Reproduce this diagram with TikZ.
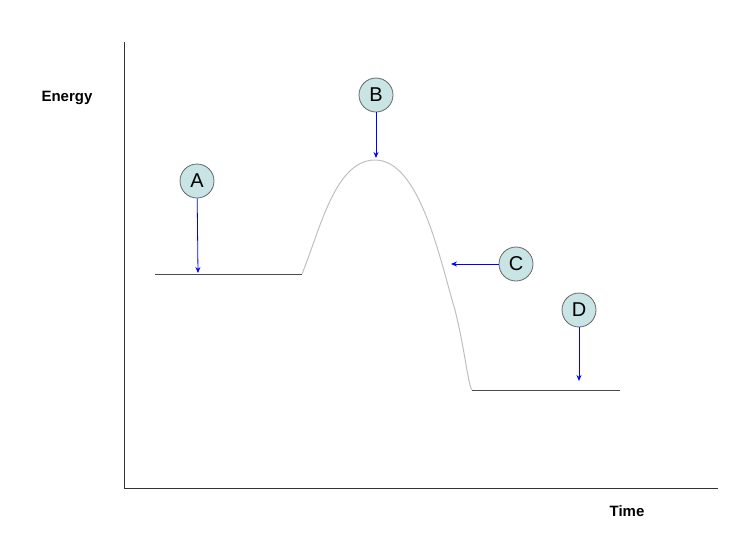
\documentclass[tikz,border=0pt]{standalone}
\usepackage{fontspec}
\setmainfont{Liberation Sans}
\usetikzlibrary{arrows.meta}
\definecolor{circ}{RGB}{200,228,228}
\tikzset{x=1pt,y=-1pt,
 lab/.style={circle,draw=black!60,thick,fill=circ,minimum size=34pt,inner sep=0pt,font=\fontsize{20}{20}\selectfont},
 marker/.style={blue,thick,-{Stealth[length=6pt,width=5pt]}},
 axis/.style={black!80,line width=0.8pt},
 level/.style={black!70,line width=1pt}}
\begin{document}
\begin{tikzpicture}
\useasboundingbox (0,0) rectangle (744,544);
\coordinate (o) at (124,488);
\coordinate (yt) at (124,42);
\coordinate (xt) at (718,488);
\draw[axis] (yt) -- (o) -- (xt);
\node[font=\bfseries\fontsize{15}{15}\selectfont] (en) at (67,98) {Energy};
\node[font=\bfseries\fontsize{15}{15}\selectfont] (ti) at (627,511) {Time};
\coordinate (l1) at (155,274);
\coordinate (l2) at (302,274);
\coordinate (pk) at (375,160);
\coordinate (r1) at (472,390);
\coordinate (r2) at (620,390);
\draw[level] (l1) -- (l2);
\draw[black!25,line width=1pt] (l2) .. controls (320,230) and (335,160) .. (pk)
 .. controls (420,160) and (440,260) .. (455,310) .. controls (465,350) and (468,385) .. (r1);
\draw[level] (r1) -- (r2);
\node[lab] (A) at (197,181) {A};
\node[lab] (B) at (376,95) {B};
\node[lab] (C) at (516,264) {C};
\node[lab] (D) at (579,310) {D};
\coordinate (ae) at (198,273);
\coordinate (be) at (376,158);
\coordinate (ce) at (451,264);
\coordinate (de) at (579,381);
\draw[marker] (A) -- (ae);
\draw[marker] (B) -- (be);
\draw[marker] (C) -- (ce);
\draw[marker] (D) -- (de);
\end{tikzpicture}
\end{document}
